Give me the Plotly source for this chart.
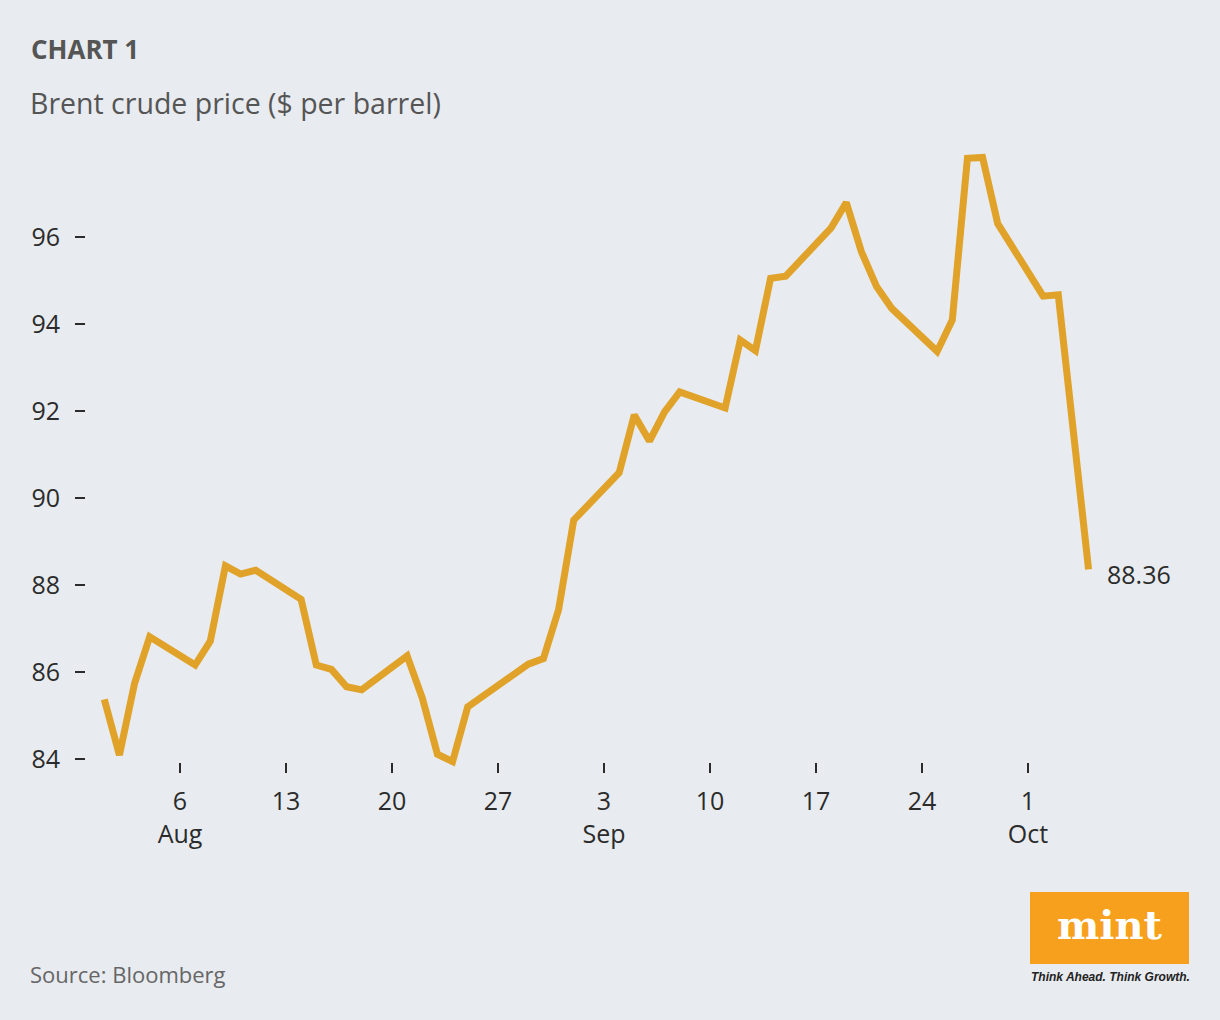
import plotly.graph_objects as go
import pandas as pd

# ---- data ----
dates = [
    "2023-08-01", "2023-08-02", "2023-08-03", "2023-08-04",
    "2023-08-07", "2023-08-08", "2023-08-09", "2023-08-10", "2023-08-11",
    "2023-08-14", "2023-08-15", "2023-08-16", "2023-08-17", "2023-08-18",
    "2023-08-21", "2023-08-22", "2023-08-23", "2023-08-24", "2023-08-25",
    "2023-08-29", "2023-08-30", "2023-08-31", "2023-09-01",
    "2023-09-04", "2023-09-05", "2023-09-06", "2023-09-07", "2023-09-08",
    "2023-09-11", "2023-09-12", "2023-09-13", "2023-09-14", "2023-09-15",
    "2023-09-18", "2023-09-19", "2023-09-20", "2023-09-21", "2023-09-22",
    "2023-09-25", "2023-09-26", "2023-09-27", "2023-09-28", "2023-09-29",
    "2023-10-02", "2023-10-03", "2023-10-04", "2023-10-05",
]
prices = [
    85.37, 84.09, 85.74, 86.81,
    86.16, 86.71, 88.44, 88.25, 88.34,
    87.67, 86.16, 86.06, 85.66, 85.59,
    86.37, 85.40, 84.11, 83.94, 85.20,
    86.18, 86.31, 87.43, 89.49,
    90.58, 91.91, 91.31, 91.98, 92.44,
    92.07, 93.63, 93.39, 95.05, 95.10,
    96.21, 96.79, 95.66, 94.86, 94.36,
    93.37, 94.09, 97.81, 97.83, 96.31,
    94.64, 94.67, 91.68, 88.36,
]
x_tick_dates = ["2023-08-06", "2023-08-13", "2023-08-20", "2023-08-27",
                "2023-09-03", "2023-09-10", "2023-09-17", "2023-09-24", "2023-10-01"]
x_tick_text = ["6<br>Aug", "13", "20", "27", "3<br>Sep", "10", "17", "24", "1<br>Oct"]
y_tick_vals = [84, 86, 88, 90, 92, 94, 96]
last_label = "88.36"

title_text = "CHART 1"
subtitle_text = "Brent crude price ($ per barrel)"
source_text = "Source: Bloomberg"

# ---- layout geometry (pixels) ----
W, H = 1220, 1020
PL, PR, PT, PB = 70, 1110, 140, 790          # plot area
px_per_day = 106 / 7
px_per_unit = 43.5
ref_day = pd.Timestamp("2023-08-06"); ref_day_px = 180
ref_val, ref_val_px = 84, 759

x0 = ref_day - pd.Timedelta(days=(ref_day_px - PL) / px_per_day)
x1 = x0 + pd.Timedelta(days=(PR - PL) / px_per_day)
y0 = ref_val - (PB - ref_val_px) / px_per_unit
y1 = ref_val + (ref_val_px - PT) / px_per_unit

def px2x(px):
    return (px - PL) / (PR - PL)

def px2y(py):
    return (PB - py) / (PB - PT)

BG = "#e8ebef"
LINE = "#e0a228"
TXT = "#2b2b2b"
FONT = "Open Sans"

fig = go.Figure()
fig.add_trace(go.Scatter(
    x=pd.to_datetime(dates), y=prices, mode="lines",
    line=dict(color=LINE, width=7),
    hoverinfo="skip", showlegend=False,
))

fig.add_annotation(x=pd.to_datetime(dates[-1]), y=prices[-1], xref="x", yref="y",
                   text=last_label, showarrow=False, xanchor="left", yanchor="middle",
                   xshift=16, yshift=-5, font=dict(family=FONT, size=25, color=TXT))

fig.add_annotation(x=px2x(29), y=px2y(29), xref="paper", yref="paper",
                   text="<b>" + title_text + "</b>", showarrow=False,
                   xanchor="left", yanchor="top",
                   font=dict(family=FONT, size=26, color="#555555"))
fig.add_annotation(x=px2x(28), y=px2y(82), xref="paper", yref="paper",
                   text=subtitle_text, showarrow=False,
                   xanchor="left", yanchor="top",
                   font=dict(family=FONT, size=28.5, color="#555555"))
fig.add_annotation(x=px2x(28), y=px2y(957), xref="paper", yref="paper",
                   text=source_text, showarrow=False,
                   xanchor="left", yanchor="top",
                   font=dict(family=FONT, size=22, color="#666666"))

# logo
fig.add_shape(type="rect", xref="paper", yref="paper",
              x0=px2x(1030), x1=px2x(1189), y0=px2y(964), y1=px2y(892),
              fillcolor="#f7a01d", line=dict(width=0), layer="above")
fig.add_annotation(x=px2x(1109.5), y=px2y(924), xref="paper", yref="paper",
                   text="<b>mint</b>", showarrow=False, xanchor="center", yanchor="middle",
                   font=dict(family="DejaVu Serif", size=40, color="white"))
fig.add_annotation(x=px2x(1110), y=px2y(977), xref="paper", yref="paper",
                   text="<b><i>Think Ahead. Think Growth.</i></b>", showarrow=False,
                   xanchor="center", yanchor="middle",
                   font=dict(family="Liberation Sans", size=12, color="#222222"))

fig.update_layout(
    width=W, height=H,
    margin=dict(l=PL, r=W - PR, t=PT, b=H - PB, pad=0),
    paper_bgcolor=BG, plot_bgcolor=BG,
    xaxis=dict(
        range=[x0, x1], type="date",
        tickmode="array", tickvals=pd.to_datetime(x_tick_dates), ticktext=x_tick_text,
        ticks="outside", ticklen=10, tickwidth=2, tickcolor=TXT,
        showgrid=False, zeroline=False, showline=False,
        anchor="free", position=px2y(762),
        ticklabelstandoff=7,
        tickfont=dict(family=FONT, size=25, color=TXT),
    ),
    yaxis=dict(
        range=[y0, y1],
        tickmode="array", tickvals=y_tick_vals,
        ticks="outside", ticklen=10, tickwidth=2, tickcolor=TXT,
        showgrid=False, zeroline=False, showline=False,
        anchor="free", position=px2x(85),
        ticklabelstandoff=10,
        tickfont=dict(family=FONT, size=25, color=TXT),
    ),
)

fig.write_html("out.html")
